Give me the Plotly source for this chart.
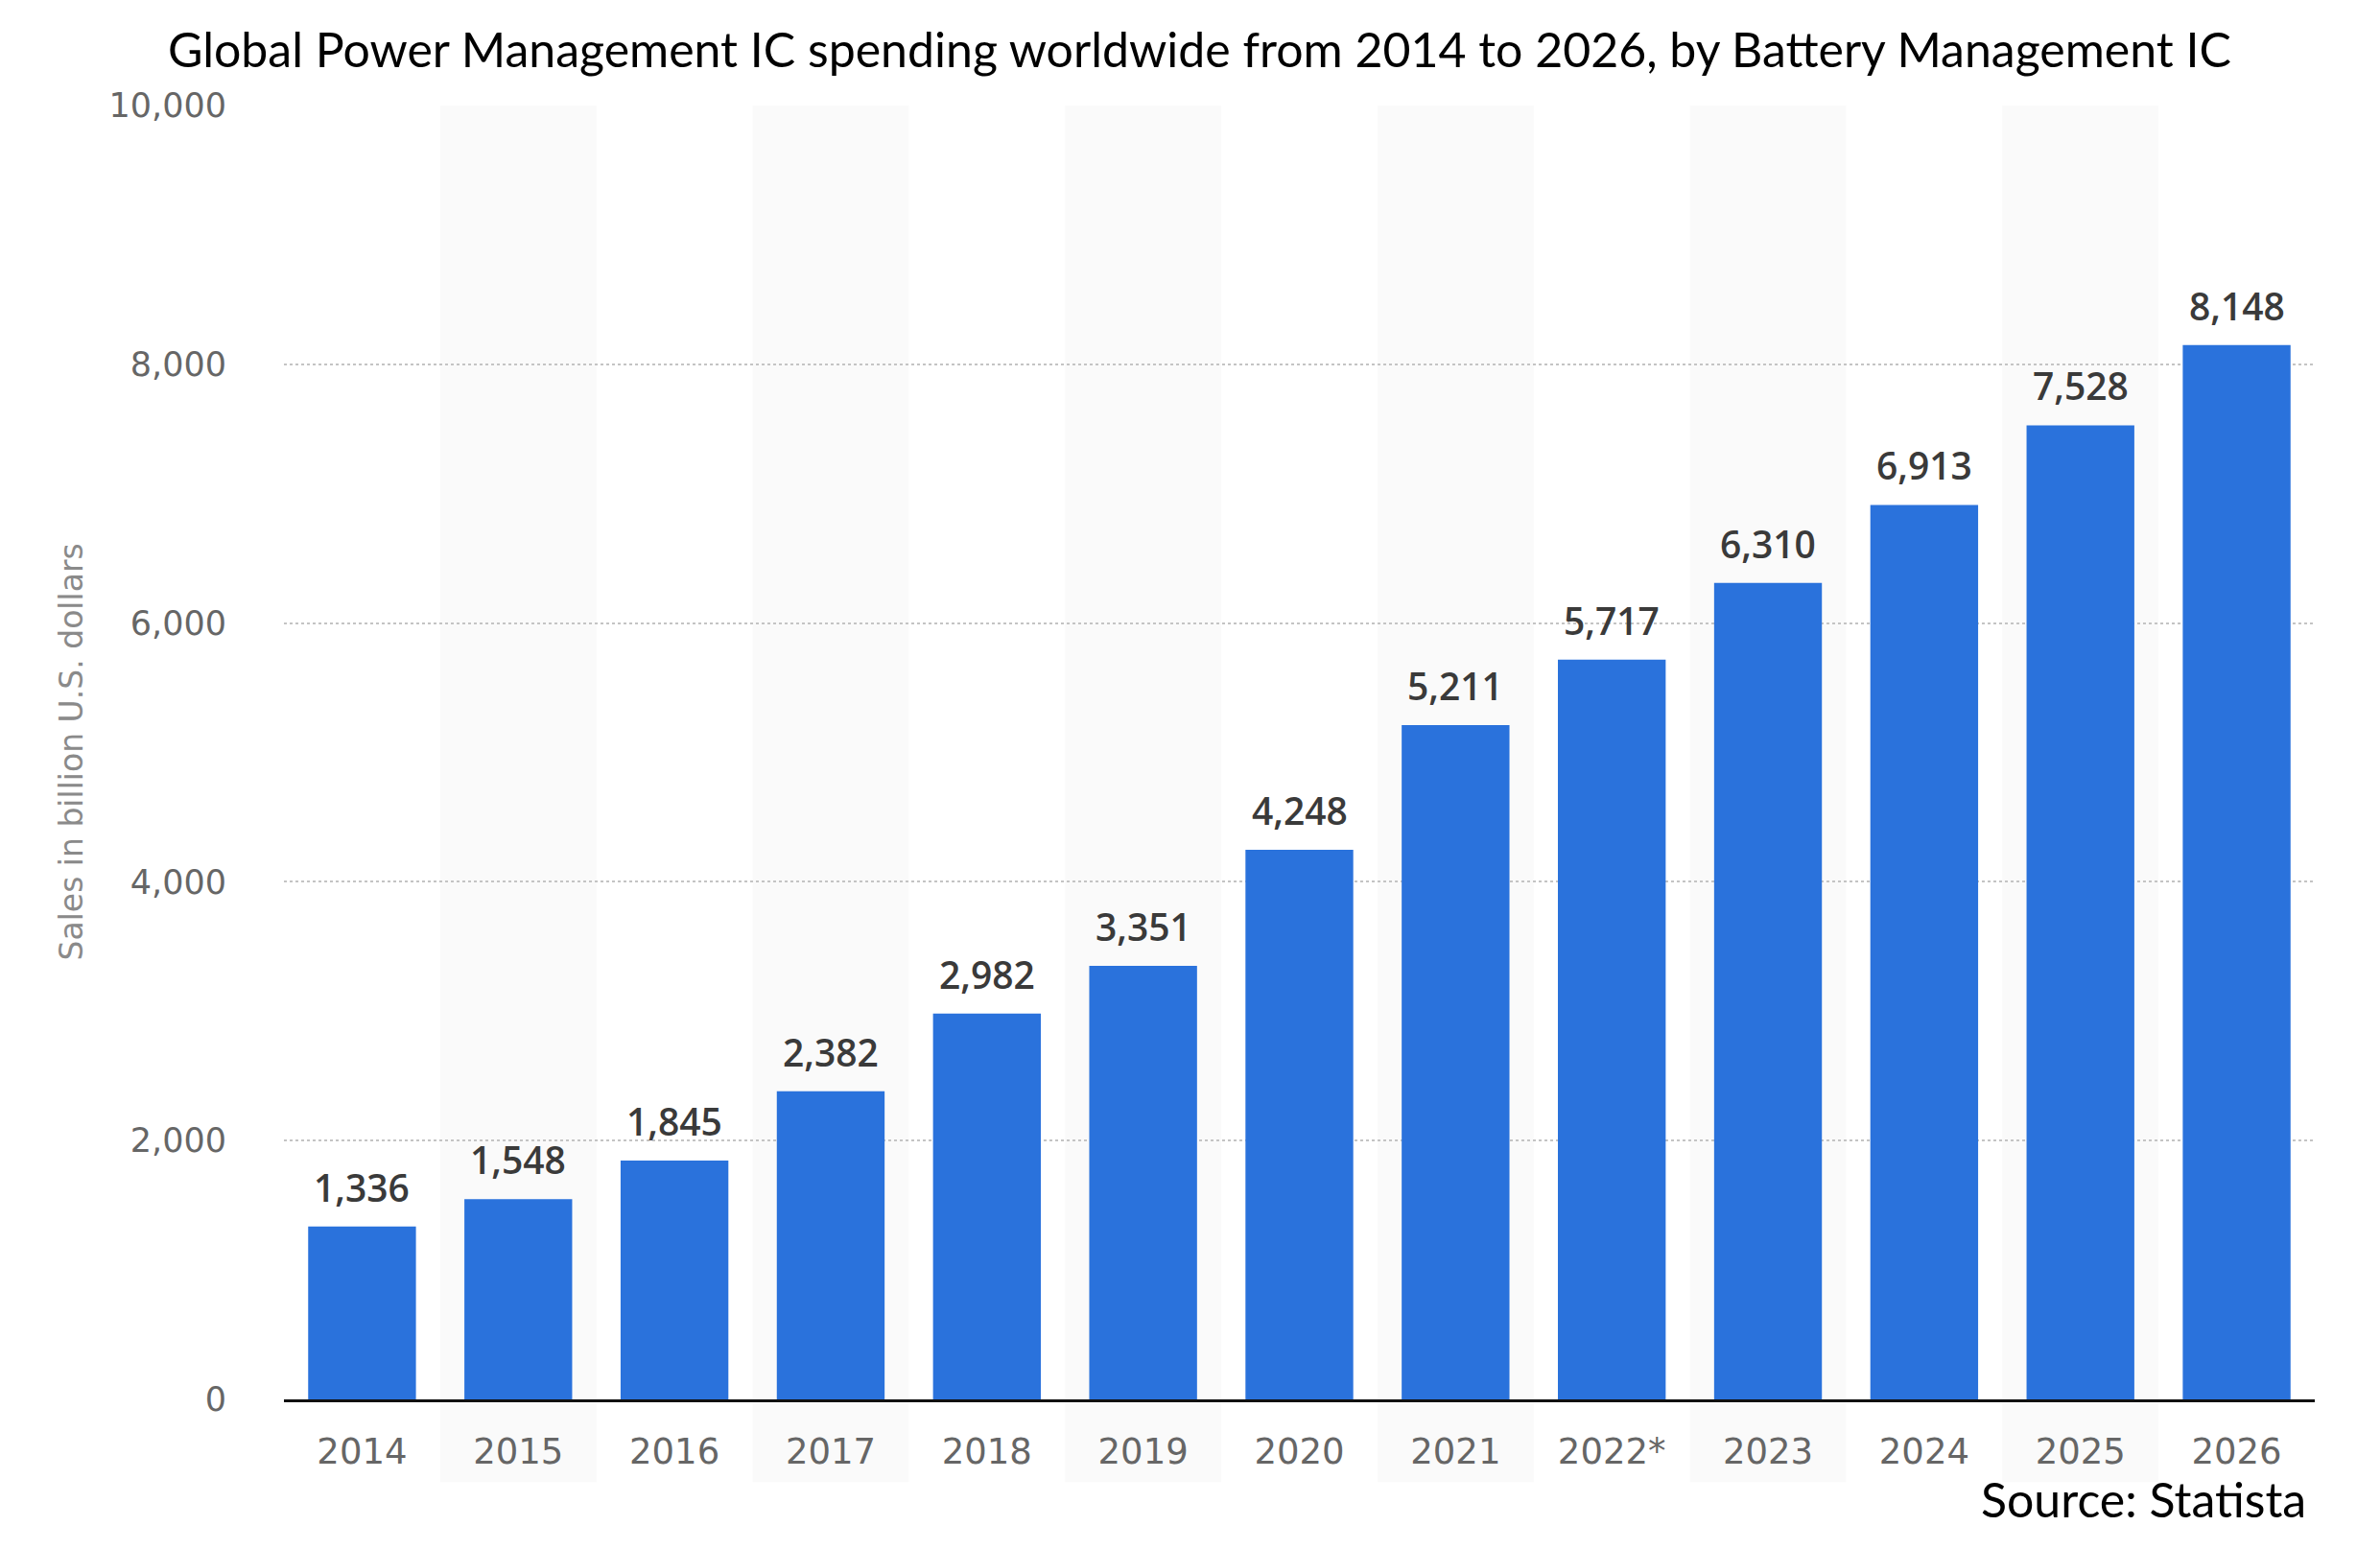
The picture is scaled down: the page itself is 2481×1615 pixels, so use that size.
import plotly.graph_objects as go

years = ["2014", "2015", "2016", "2017", "2018", "2019", "2020",
         "2021", "2022*", "2023", "2024", "2025", "2026"]
sales = [1336, 1548, 1845, 2382, 2982, 3351, 4248,
         5211, 5717, 6310, 6913, 7528, 8148]
y_ticks = [0, 2000, 4000, 6000, 8000, 10000]
y_tick_text = ["0", "2,000", "4,000", "6,000", "8,000", "10,000"]

title_text = "Global Power Management IC spending worldwide from 2014 to 2026, by Battery Management IC"
y_title = "Sales in billion U.S. dollars"
source_text = "Source: Statista"

W, H = 2481, 1615
ml, mr, mt, mb = 296, 68, 110, 156

fig = go.Figure()
fig.add_trace(go.Bar(
    x=years, y=sales,
    marker=dict(color="#2a72dc", line=dict(width=0)),
    hoverinfo="x+y",
))

shapes = []
for i, yr in enumerate(years):
    if i % 2 == 1:
        shapes.append(dict(
            type="rect", xref="x", yref="paper",
            x0=i - 0.5, x1=i + 0.5, y0=-0.064, y1=1.0,
            fillcolor="#fafafa", line=dict(width=0), layer="below",
        ))

annotations = []
for i, v in enumerate(sales):
    annotations.append(dict(
        x=i, y=v, xref="x", yref="y",
        text=f"{v:,}", showarrow=False,
        yanchor="bottom", yshift=13,
        font=dict(family="Open Sans", size=39, color="#3a3a3a", weight=600),
    ))

annotations.append(dict(
    x=(74 - ml) / (W - ml - mr), y=0.5, xref="paper", yref="paper",
    text=y_title, showarrow=False, textangle=-90,
    xanchor="center", yanchor="middle",
    font=dict(family="DejaVu Sans", size=33, color="#8a8a8a"),
))
annotations.append(dict(
    x=(2405 - ml) / (W - ml - mr), y=(1459 - 1563) / (H - mt - mb),
    xref="paper", yref="paper",
    text=source_text, showarrow=False,
    xanchor="right", yanchor="middle", borderpad=0,
    font=dict(family="Lato", size=50, color="#000000"),
))

fig.update_layout(
    width=W, height=H,
    margin=dict(l=ml, r=mr, t=mt, b=mb),
    paper_bgcolor="white", plot_bgcolor="rgba(0,0,0,0)",
    bargap=0.31,
    showlegend=False,
    title=dict(
        text=title_text, x=0.504, xanchor="center",
        y=1 - 52 / H, yanchor="middle",
        font=dict(family="Lato", size=50, color="#000000"),
    ),
    shapes=shapes,
    annotations=annotations,
    xaxis=dict(
        type="category",
        range=[-0.5, len(years) - 0.5],
        showline=True, linecolor="#111111", linewidth=3,
        showgrid=False,
        ticks="outside", ticklen=20, tickcolor="rgba(0,0,0,0)",
        tickfont=dict(family="DejaVu Sans", size=37, color="#666666"),
    ),
    yaxis=dict(
        range=[0, 10000],
        tickvals=y_ticks, ticktext=y_tick_text,
        showgrid=True, gridcolor="#c4c4c4", gridwidth=2, griddash="dot",
        zeroline=False, showline=False,
        ticks="outside", ticklen=52, tickcolor="rgba(0,0,0,0)",
        tickfont=dict(family="DejaVu Sans", size=35, color="#666666"),
    ),
)

fig.write_html("out.html")
